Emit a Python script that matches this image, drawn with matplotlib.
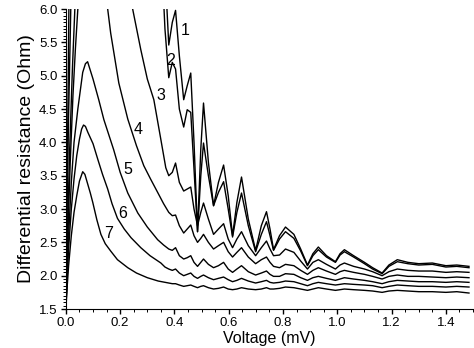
import matplotlib
matplotlib.use("Agg")
import matplotlib.pyplot as plt
from matplotlib.ticker import MultipleLocator

plt.rcParams['font.family'] = ['Liberation Sans', 'DejaVu Sans']

# shared voltage grid for the oscillating part (mV)
v_tail = [0.379, 0.392, 0.404, 0.418, 0.434, 0.447, 0.46, 0.472, 0.485, 0.497,
          0.507, 0.525, 0.544, 0.562, 0.581, 0.598, 0.614, 0.63, 0.647, 0.672,
          0.699, 0.72, 0.739, 0.752, 0.765, 0.787, 0.809, 0.84, 0.865, 0.89,
          0.91, 0.93, 0.96, 0.993, 1.01, 1.026, 1.06, 1.1, 1.13, 1.165,
          1.19, 1.221, 1.26, 1.3, 1.35, 1.4, 1.44, 1.485]

# low-voltage part of each curve (values above 6 run off the top)
head_v1 = [0, 0.004, 0.008, 0.011, 0.016, 0.36]
head_r1 = [1.5, 3.1, 4.7, 6.0, 7.3, 7.0]
head_v2 = [0, 0.005, 0.01, 0.018, 0.024, 0.35, 0.365]
head_r2 = [1.5, 3.2, 4.4, 6.0, 7.0, 7.0, 5.7]
head_v3 = [0, 0.007, 0.014, 0.024, 0.033, 0.042, 0.22, 0.246, 0.276, 0.3,
           0.324, 0.35, 0.368]
head_r3 = [1.5, 2.8, 3.9, 5.1, 6.0, 6.8, 7.2, 6.0, 5.39, 4.95,
           4.64, 4.04, 3.62]
head_v4 = [0, 0.008, 0.016, 0.026, 0.035, 0.044, 0.055, 0.13, 0.154, 0.165,
           0.195, 0.228, 0.26, 0.287, 0.312, 0.338, 0.36]
head_r4 = [1.5, 2.7, 3.7, 4.7, 5.4, 6.0, 6.6, 7.2, 6.0, 5.64,
           4.89, 4.35, 3.95, 3.65, 3.45, 3.25, 3.08]
head_v5 = [0, 0.005, 0.01, 0.02, 0.03, 0.044, 0.062, 0.072, 0.08, 0.09,
           0.1, 0.121, 0.14, 0.176, 0.2, 0.228, 0.265, 0.3, 0.338, 0.36]
head_r5 = [1.5, 2.1, 2.6, 3.4, 4.0, 4.5, 5.05, 5.18, 5.21, 5.08,
           4.95, 4.64, 4.34, 3.89, 3.55, 3.24, 2.94, 2.73, 2.54, 2.46]
head_v6 = [0, 0.005, 0.01, 0.02, 0.03, 0.04, 0.05, 0.058, 0.065, 0.072,
           0.081, 0.1, 0.118, 0.135, 0.154, 0.17, 0.19, 0.215, 0.24, 0.276,
           0.31, 0.35, 0.365]
head_r6 = [1.5, 2.0, 2.4, 3.0, 3.45, 3.8, 4.05, 4.2, 4.26, 4.24,
           4.15, 3.98, 3.74, 3.52, 3.3, 3.08, 2.86, 2.7, 2.57, 2.42,
           2.3, 2.19, 2.13]
head_v7 = [0, 0.005, 0.01, 0.02, 0.03, 0.04, 0.05, 0.062, 0.07, 0.08,
           0.09, 0.099, 0.114, 0.129, 0.145, 0.165, 0.19, 0.228, 0.26, 0.3,
           0.34]
head_r7 = [1.5, 1.85, 2.15, 2.6, 2.95, 3.2, 3.42, 3.56, 3.52, 3.38,
           3.24, 3.1, 2.84, 2.62, 2.48, 2.37, 2.24, 2.12, 2.04, 1.97,
           1.92]

tail_r1 = [5.46, 5.8, 5.98, 5.3, 4.64, 4.85, 5.04, 4.0, 2.66, 3.9,
           4.59, 3.7, 3.05, 3.4, 3.66, 3.2, 2.6, 3.1, 3.48, 2.85,
           2.38, 2.75, 2.96, 2.7, 2.39, 2.6, 2.73, 2.62, 2.4, 2.16,
           2.33, 2.43, 2.3, 2.21, 2.33, 2.39, 2.3, 2.2, 2.12, 2.04,
           2.16, 2.24, 2.2, 2.18, 2.19, 2.15, 2.16, 2.14]
tail_r2 = [4.97, 5.2, 5.1, 4.5, 4.23, 4.49, 4.45, 3.6, 2.66, 3.5,
           3.99, 3.5, 3.05, 3.25, 3.41, 3.0, 2.58, 2.95, 3.24, 2.75,
           2.36, 2.62, 2.81, 2.6, 2.38, 2.55, 2.66, 2.56, 2.37, 2.15,
           2.3, 2.39, 2.28, 2.2, 2.31, 2.36, 2.28, 2.18, 2.1, 2.03,
           2.14, 2.21, 2.18, 2.16, 2.17, 2.13, 2.14, 2.12]
tail_r3 = [3.5, 3.55, 3.69, 3.4, 3.27, 3.3, 3.33, 3.0, 2.75, 2.95,
           3.09, 2.85, 2.62, 2.7, 2.78, 2.55, 2.42, 2.55, 2.66, 2.45,
           2.3, 2.42, 2.52, 2.4, 2.3, 2.31, 2.4, 2.35, 2.22, 2.1,
           2.2, 2.24, 2.17, 2.1, 2.16, 2.19, 2.14, 2.1, 2.06, 2.0,
           2.06, 2.1, 2.08, 2.07, 2.07, 2.05, 2.06, 2.05]
tail_r4 = [2.95, 2.9, 2.91, 2.75, 2.64, 2.7, 2.76, 2.6, 2.5, 2.56,
           2.62, 2.5, 2.4, 2.45, 2.5, 2.36, 2.28, 2.35, 2.42, 2.28,
           2.18, 2.24, 2.28, 2.2, 2.14, 2.12, 2.17, 2.15, 2.08, 2.02,
           2.08, 2.12, 2.07, 2.02, 2.06, 2.08, 2.05, 2.02, 1.99, 1.95,
           1.99, 2.01, 1.99, 1.99, 1.98, 1.97, 1.98, 1.97]
tail_r5 = [2.4, 2.38, 2.42, 2.3, 2.25, 2.27, 2.3, 2.2, 2.14, 2.2,
           2.25, 2.17, 2.12, 2.15, 2.2, 2.1, 2.05, 2.1, 2.15, 2.06,
           2.01, 2.04, 2.07, 2.02, 1.99, 1.99, 2.03, 2.02, 1.97, 1.93,
           1.97, 1.99, 1.96, 1.93, 1.95, 1.97, 1.95, 1.93, 1.91, 1.88,
           1.91, 1.93, 1.92, 1.91, 1.91, 1.9, 1.91, 1.9]
tail_r6 = [2.1, 2.08, 2.1, 2.04, 2.0, 2.02, 2.04, 1.99, 1.96, 1.99,
           2.01, 1.97, 1.94, 1.96, 1.98, 1.94, 1.91, 1.93, 1.96, 1.92,
           1.89, 1.91, 1.93, 1.9, 1.89, 1.9, 1.92, 1.91, 1.88, 1.85,
           1.88, 1.9, 1.88, 1.86, 1.87, 1.88, 1.87, 1.86, 1.85, 1.82,
           1.84, 1.86, 1.85, 1.84, 1.84, 1.83, 1.84, 1.83]
tail_r7 = [1.89, 1.88, 1.88, 1.86, 1.84, 1.85, 1.86, 1.84, 1.82, 1.84,
           1.85, 1.82, 1.8, 1.81, 1.83, 1.8, 1.79, 1.8, 1.82, 1.8,
           1.79, 1.8, 1.82, 1.8, 1.8, 1.81, 1.83, 1.82, 1.8, 1.78,
           1.8, 1.82, 1.8, 1.78, 1.79, 1.8, 1.79, 1.78, 1.77, 1.75,
           1.77, 1.78, 1.77, 1.76, 1.76, 1.75, 1.76, 1.74]

curve_names = ['1', '2', '3', '4', '5', '6', '7']
label_v = [0.441, 0.386, 0.349, 0.265, 0.228, 0.21, 0.158]
label_r = [5.68, 5.23, 4.71, 4.19, 3.59, 2.94, 2.63]

heads = [(head_v1, head_r1), (head_v2, head_r2), (head_v3, head_r3),
         (head_v4, head_r4), (head_v5, head_r5), (head_v6, head_r6),
         (head_v7, head_r7)]
tails = [tail_r1, tail_r2, tail_r3, tail_r4, tail_r5, tail_r6, tail_r7]

fig = plt.figure(figsize=(4.74, 3.48), dpi=100)
ax = fig.add_axes([0.139, 0.112, 0.859, 0.862])

for (hv, hr), tr in zip(heads, tails):
    ax.plot(hv + v_tail, hr + tr, color='black', lw=1.0)

for name, x, y in zip(curve_names, label_v, label_r):
    ax.text(x, y, name, fontsize=11.5, ha='center', va='center')

ax.set_xlim(0, 1.5)
ax.set_ylim(1.5, 6.0)
ax.xaxis.set_major_locator(MultipleLocator(0.2))
ax.xaxis.set_minor_locator(MultipleLocator(0.05))
ax.yaxis.set_major_locator(MultipleLocator(0.5))
ax.yaxis.set_minor_locator(MultipleLocator(0.05))
ax.tick_params(which='major', direction='out', length=3.5, width=1.0,
               labelsize=9.5, pad=2.5)
ax.tick_params(which='minor', direction='out', length=2.0, width=0.7)
ax.spines['top'].set_visible(False)
ax.spines['right'].set_visible(False)

ax.set_xlabel('Voltage (mV)', fontsize=11.5, labelpad=1)
ax.set_ylabel('Differential resistance (Ohm)', fontsize=14, labelpad=3)

fig.savefig('out.png', dpi=100)
